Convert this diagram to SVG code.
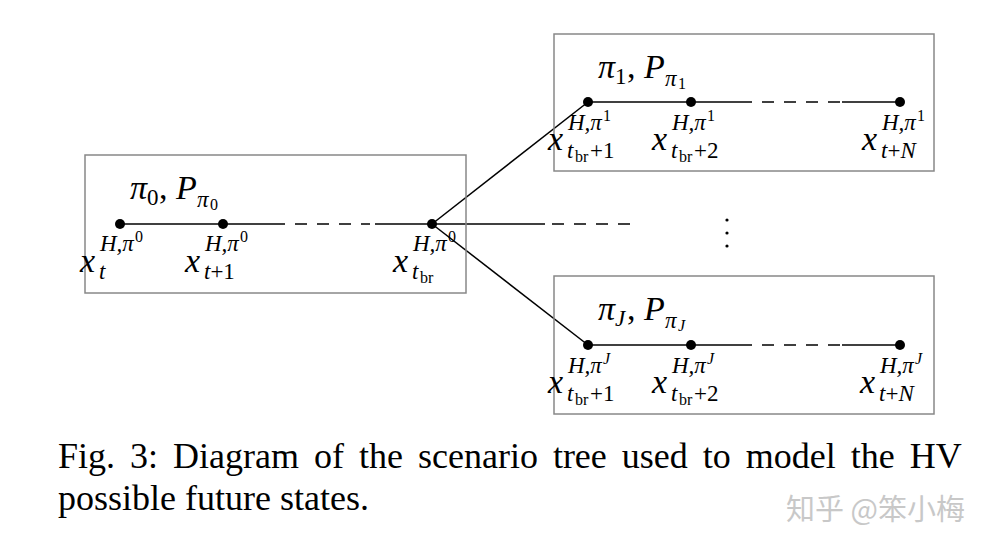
<svg xmlns="http://www.w3.org/2000/svg" width="998" height="548" viewBox="0 0 998 548">
<style>
.box{fill:none;stroke:#888;stroke-width:1.5}
.ln{stroke:#000;stroke-width:1.5;fill:none}
.ds{stroke:#000;stroke-width:1.5;stroke-dasharray:12,10}
.m{font-family:"Liberation Serif",serif;font-style:italic}
.X{font-size:34px}
.s{font-size:23px}
.ss{font-size:16px}
.u{font-style:normal}
.cap{font-family:"Liberation Serif",serif;font-size:36px}
</style>
<rect width="998" height="548" fill="#fff"/>
<g id="connectors">
<line class="ln" x1="120" y1="224" x2="285" y2="224"/>
<line class="ds" x1="295" y1="224" x2="370" y2="224"/>
<line class="ln" x1="375" y1="224" x2="545" y2="224"/>
<line class="ds" x1="552" y1="224" x2="640" y2="224"/>
<line class="ln" x1="432" y1="224" x2="588" y2="102"/>
<line class="ln" x1="432" y1="224" x2="588" y2="345"/>
<line class="ln" x1="588" y1="102" x2="752" y2="102"/>
<line class="ds" x1="762" y1="102" x2="840" y2="102"/>
<line class="ln" x1="842" y1="102" x2="900" y2="102"/>
<line class="ln" x1="588" y1="345" x2="752" y2="345"/>
<line class="ds" x1="762" y1="345" x2="840" y2="345"/>
<line class="ln" x1="842" y1="345" x2="900" y2="345"/>
</g>
<g id="box0">
<rect class="box" x="85" y="155" width="381" height="138"/>
<text class="m X" x="130" y="199">π</text><text class="m s u" x="147" y="205">0</text><text class="m X u" x="159" y="199">,</text><text class="m X" x="176" y="199">P</text><text class="m s" x="197" y="207">π</text><text class="m ss u" x="210" y="210">0</text>
<circle cx="120" cy="224" r="5"/><circle cx="223" cy="224" r="5"/><circle cx="432" cy="224" r="5"/>
<text class="m X" x="80" y="272">x</text><text class="m s" x="100" y="251">H,π</text><text class="m ss u" x="135" y="242">0</text><text class="m s" x="99" y="279">t</text>
<text class="m X" x="185" y="272">x</text><text class="m s" x="205" y="251">H,π</text><text class="m ss u" x="240" y="242">0</text><text class="m s" x="204" y="279">t<tspan class="u">+1</tspan></text>
<text class="m X" x="393" y="272">x</text><text class="m s" x="413" y="251">H,π</text><text class="m ss u" x="448" y="242">0</text><text class="m s" x="412" y="279">t</text><text class="m ss u" x="420" y="283">br</text>
</g>
<g id="box1">
<rect class="box" x="554" y="34" width="380" height="137"/>
<text class="m X" x="598" y="78">π</text><text class="m s u" x="615" y="84">1</text><text class="m X u" x="627" y="78">,</text><text class="m X" x="644" y="78">P</text><text class="m s" x="665" y="86">π</text><text class="m ss u" x="678" y="89">1</text>
<circle cx="588" cy="102" r="5"/><circle cx="691" cy="102" r="5"/><circle cx="900" cy="102" r="5"/>
<text class="m X" x="548" y="150">x</text><text class="m s" x="568" y="130">H,π</text><text class="m ss u" x="603" y="121">1</text><text class="m s" x="567" y="158">t</text><text class="m ss u" x="575" y="162">br</text><text class="m s u" x="590" y="158">+1</text>
<text class="m X" x="652" y="150">x</text><text class="m s" x="672" y="130">H,π</text><text class="m ss u" x="707" y="121">1</text><text class="m s" x="671" y="158">t</text><text class="m ss u" x="679" y="162">br</text><text class="m s u" x="694" y="158">+2</text>
<text class="m X" x="862" y="150">x</text><text class="m s" x="882" y="130">H,π</text><text class="m ss u" x="917" y="121">1</text><text class="m s" x="881" y="158">t<tspan class="u">+</tspan>N</text>
</g>
<g id="vdots">
<circle cx="727" cy="220" r="1.6"/><circle cx="727" cy="233" r="1.6"/><circle cx="727" cy="246" r="1.6"/>
</g>
<g id="boxJ">
<rect class="box" x="554" y="276" width="380" height="138"/>
<text class="m X" x="598" y="320">π</text><text class="m s" x="615" y="326">J</text><text class="m X u" x="627" y="320">,</text><text class="m X" x="644" y="320">P</text><text class="m s" x="665" y="328">π</text><text class="m ss" x="678" y="331">J</text>
<circle cx="588" cy="345" r="5"/><circle cx="691" cy="345" r="5"/><circle cx="900" cy="345" r="5"/>
<text class="m X" x="548" y="393">x</text><text class="m s" x="568" y="373">H,π</text><text class="m ss" x="603" y="364">J</text><text class="m s" x="567" y="401">t</text><text class="m ss u" x="575" y="405">br</text><text class="m s u" x="590" y="401">+1</text>
<text class="m X" x="652" y="393">x</text><text class="m s" x="672" y="373">H,π</text><text class="m ss" x="707" y="364">J</text><text class="m s" x="671" y="401">t</text><text class="m ss u" x="679" y="405">br</text><text class="m s u" x="694" y="401">+2</text>
<text class="m X" x="860" y="393">x</text><text class="m s" x="880" y="373">H,π</text><text class="m ss" x="915" y="364">J</text><text class="m s" x="879" y="401">t<tspan class="u">+</tspan>N</text>
</g>
<text class="cap" x="58" y="468" word-spacing="6">Fig. 3: Diagram of the scenario tree used to model the HV</text>
<text class="cap" x="58" y="510">possible future states.</text>
<text x="786" y="520" font-family="'Noto Sans CJK SC',sans-serif" font-size="29" fill="#c8c8c8">知乎 @笨小梅</text>
</svg>
